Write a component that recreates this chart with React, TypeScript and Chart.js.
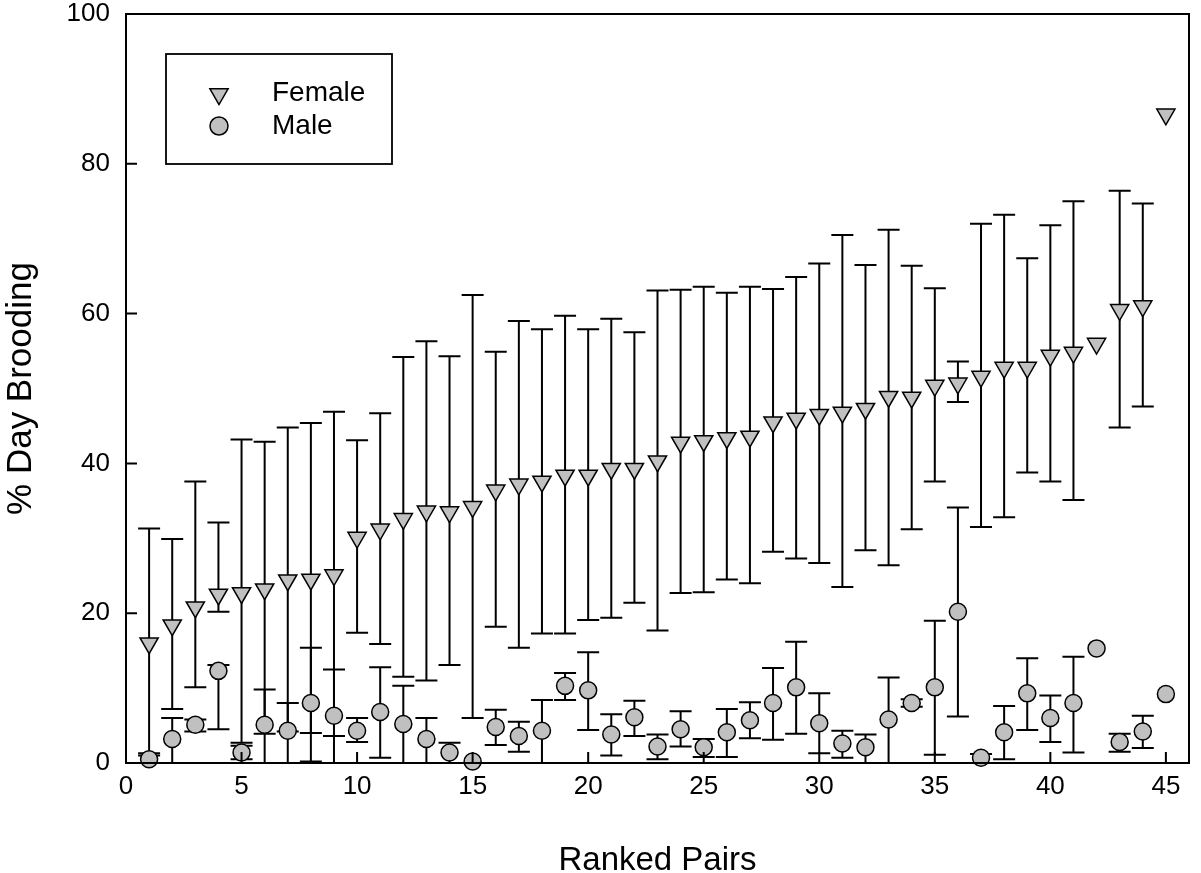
import { useEffect, useRef } from "react";
import { Chart, registerables } from "chart.js";

Chart.register(...registerables);

// Ranked breeding pairs (x axis)
const pairs = [
  1, 2, 3, 4, 5, 6, 7, 8, 9, 10, 11, 12, 13, 14, 15, 16, 17, 18, 19, 20, 21, 22,
  23, 24, 25, 26, 27, 28, 29, 30, 31, 32, 33, 34, 35, 36, 37, 38, 39, 40, 41, 42,
  43, 44, 45,
];

// Female % of day brooding: mean, lower and upper error limits
const femaleMean = [
  16.0, 18.4, 20.8, 22.5, 22.7, 23.2, 24.4, 24.5, 25.1, 30.1, 31.2, 32.6, 33.6,
  33.5, 34.2, 36.4, 37.2, 37.6, 38.4, 38.4, 39.3, 39.3, 40.3, 42.8, 43.0, 43.4,
  43.6, 45.5, 46.0, 46.5, 46.8, 47.3, 48.9, 48.8, 50.4, 50.7, 51.6, 52.8, 52.8,
  54.4, 54.8, 56.0, 60.5, 61.0, 86.6,
];
const femaleLow: (number | null)[] = [
  1.0, 7.2, 10.1, 20.2, 2.7, 3.9, 4.2, 4.0, 3.6, 17.4, 15.9, 11.5, 11.0, 13.1,
  6.0, 18.2, 15.4, 17.3, 17.3, 19.1, 19.4, 21.4, 17.7, 22.7, 22.8, 24.5, 24.0,
  28.2, 27.3, 26.7, 23.5, 28.4, 26.4, 31.2, 37.6, 48.2, 31.5, 32.8, 38.8, 37.6,
  35.1, null, 44.8, 47.6, null,
];
const femaleHigh: (number | null)[] = [
  31.3, 29.9, 37.6, 32.1, 43.2, 42.9, 44.8, 45.4, 46.9, 43.1, 46.7, 54.2, 56.3,
  54.3, 62.5, 54.9, 59.0, 57.9, 59.7, 57.9, 59.3, 57.5, 63.1, 63.2, 63.6, 62.8,
  63.6, 63.3, 64.9, 66.7, 70.5, 66.5, 71.2, 66.4, 63.4, 53.6, 72.0, 73.2, 67.4,
  71.8, 75.0, null, 76.4, 74.7, null,
];

// Male % of day brooding: mean, lower and upper error limits
const maleMean = [
  0.5, 3.2, 5.1, 12.3, 1.4, 5.1, 4.3, 8.0, 6.3, 4.3, 6.8, 5.2, 3.2, 1.4, 0.2,
  4.8, 3.6, 4.3, 10.3, 9.7, 3.8, 6.1, 2.2, 4.5, 2.1, 4.1, 5.7, 8.0, 10.1, 5.3,
  2.6, 2.1, 5.8, 8.0, 10.1, 20.2, 0.7, 4.1, 9.3, 6.0, 8.0, 15.3, 2.8, 4.2, 9.2,
];
const maleLow: (number | null)[] = [
  0, 0, 4.2, 4.5, 0.5, 0, 0, 0.2, 0, 2.8, 0.7, 0, 0, 0, null, 2.4, 1.5, 0, 8.4,
  4.4, 1.0, 3.6, 0.5, 2.2, 0.8, 0.8, 3.3, 3.1, 3.9, 1.3, 0.7, 0, 0, 7.5, 1.1,
  6.2, 0, 0.5, 4.4, 2.8, 1.4, null, 1.5, 2.0, null,
];
const maleHigh: (number | null)[] = [
  1.3, 6.0, 5.8, 13.1, 2.3, 9.8, 8.0, 15.4, 12.5, 6.0, 12.8, 10.3, 6.0, 2.7,
  null, 7.1, 5.5, 8.4, 12.0, 14.8, 6.5, 8.3, 3.8, 6.9, 3.2, 7.2, 8.1, 12.7, 16.2,
  9.3, 4.3, 3.8, 11.4, 8.5, 19.0, 34.1, 1.2, 7.6, 14.0, 9.0, 14.2, null, 3.9,
  6.3, null,
];

const seriesNames = ["Female", "Male"];

const FILL = "#c0c0c0";
const INK = "#000000";
const FONT = "'Liberation Sans', Arial, Helvetica, sans-serif";
const CAP_HALF = 11;

const errorLimits = [
  { low: femaleLow, high: femaleHigh },
  { low: maleLow, high: maleHigh },
];

// Vertical error bars with caps, drawn underneath the symbols
const errorBarPlugin = {
  id: "errorBars",
  beforeDatasetsDraw(chart: any) {
    const { ctx } = chart;
    const xs = chart.scales.x;
    const ys = chart.scales.y;
    ctx.save();
    ctx.strokeStyle = INK;
    ctx.lineWidth = 2;
    errorLimits.forEach((lim) => {
      pairs.forEach((p, i) => {
        const lo = lim.low[i];
        const hi = lim.high[i];
        if (lo == null || hi == null) return;
        const px = xs.getPixelForValue(p);
        const yl = ys.getPixelForValue(lo);
        const yh = ys.getPixelForValue(hi);
        ctx.beginPath();
        ctx.moveTo(px, yl);
        ctx.lineTo(px, yh);
        ctx.moveTo(px - CAP_HALF, yh);
        ctx.lineTo(px + CAP_HALF, yh);
        ctx.moveTo(px - CAP_HALF, yl);
        ctx.lineTo(px + CAP_HALF, yl);
        ctx.stroke();
      });
    });
    ctx.restore();
  },
};

function downTriangle(ctx: CanvasRenderingContext2D, cx: number, cy: number, r: number) {
  let rad = Math.PI;
  ctx.beginPath();
  for (let k = 0; k < 3; k++) {
    const px = cx + Math.sin(rad) * r;
    const py = cy - Math.cos(rad) * r;
    if (k === 0) ctx.moveTo(px, py);
    else ctx.lineTo(px, py);
    rad += (2 * Math.PI) / 3;
  }
  ctx.closePath();
}

// Closed frame, inward tick marks and the boxed legend
const framePlugin = {
  id: "frame",
  afterDraw(chart: any) {
    const { ctx, chartArea: a } = chart;
    const xs = chart.scales.x;
    const ys = chart.scales.y;
    ctx.save();
    ctx.strokeStyle = INK;
    ctx.lineWidth = 2;
    ctx.strokeRect(a.left, a.top, a.right - a.left, a.bottom - a.top);
    ctx.beginPath();
    xs.ticks.forEach((t: any) => {
      const px = xs.getPixelForValue(t.value);
      ctx.moveTo(px, a.bottom);
      ctx.lineTo(px, a.bottom - 11);
    });
    ys.ticks.forEach((t: any) => {
      const py = ys.getPixelForValue(t.value);
      ctx.moveTo(a.left, py);
      ctx.lineTo(a.left + 11, py);
    });
    ctx.stroke();

    // legend box
    const bx = a.left + 40;
    const by = a.top + 40;
    ctx.lineWidth = 1.8;
    ctx.strokeRect(bx, by, 226, 110);

    const mx = bx + 53;
    ctx.lineWidth = 1.5;
    ctx.fillStyle = FILL;
    downTriangle(ctx, mx, by + 40, 10.5);
    ctx.fill();
    ctx.stroke();
    ctx.beginPath();
    ctx.arc(mx, by + 72, 9, 0, Math.PI * 2);
    ctx.fill();
    ctx.stroke();

    ctx.fillStyle = INK;
    ctx.font = `28px ${FONT}`;
    ctx.textBaseline = "middle";
    ctx.textAlign = "left";
    ctx.fillText(seriesNames[0], bx + 106, by + 39);
    ctx.fillText(seriesNames[1], bx + 106, by + 72);
    ctx.restore();
  },
};

const CANVAS_W = 1201;
const CANVAS_H = 885;

export default function App() {
  const ref = useRef<HTMLCanvasElement | null>(null);

  useEffect(() => {
    if (!ref.current) return;
    const chart = new Chart(ref.current, {
      type: "scatter",
      data: {
        datasets: [
          {
            label: seriesNames[0],
            data: pairs.map((p, i) => ({ x: p, y: femaleMean[i] })),
            pointStyle: "triangle",
            pointRotation: 180,
            pointRadius: 10.5,
            pointBorderWidth: 1.5,
            pointBackgroundColor: FILL,
            pointBorderColor: INK,
            showLine: false,
            clip: false,
          },
          {
            label: seriesNames[1],
            data: pairs.map((p, i) => ({ x: p, y: maleMean[i] })),
            pointStyle: "circle",
            pointRadius: 8.5,
            pointBorderWidth: 1.5,
            pointBackgroundColor: FILL,
            pointBorderColor: INK,
            showLine: false,
            clip: false,
          },
        ],
      },
      options: {
        responsive: false,
        animation: false,
        events: [],
        layout: { padding: { top: 14, right: 5, left: 0, bottom: 0 } },
        plugins: {
          legend: { display: false },
          tooltip: { enabled: false },
        },
        scales: {
          x: {
            type: "linear",
            position: "bottom",
            min: 0,
            max: 46,
            afterFit: (s: any) => {
              s.height = CANVAS_H - 763;
              s.paddingLeft = 0;
              s.paddingRight = 0;
            },
            grid: { display: false, drawTicks: false },
            border: { display: false },
            ticks: {
              stepSize: 5,
              includeBounds: false,
              padding: 8,
              color: INK,
              font: { family: FONT, size: 26 },
            },
            title: {
              display: true,
              text: "Ranked Pairs",
              color: INK,
              font: { family: FONT, size: 33 },
              padding: { top: 0, bottom: 4 },
            },
          },
          y: {
            type: "linear",
            min: 0,
            max: 100,
            afterFit: (s: any) => {
              s.width = 126;
              s.paddingTop = 0;
              s.paddingBottom = 0;
            },
            grid: { display: false, drawTicks: false },
            border: { display: false },
            ticks: {
              stepSize: 20,
              padding: 16,
              color: INK,
              font: { family: FONT, size: 26, lineHeight: 1 },
            },
            title: {
              display: true,
              text: "% Day Brooding",
              color: INK,
              font: { family: FONT, size: 35 },
              padding: { top: 0, bottom: 0 },
            },
          },
        },
      },
      plugins: [errorBarPlugin, framePlugin],
    } as any);
    return () => chart.destroy();
  }, []);

  return (
    <div
      style={{
        position: "absolute",
        left: 0,
        top: 0,
        width: CANVAS_W,
        height: 873,
        overflow: "hidden",
        background: "#ffffff",
      }}
    >
      <canvas ref={ref} width={CANVAS_W} height={CANVAS_H} style={{ display: "block" }} />
    </div>
  );
}
